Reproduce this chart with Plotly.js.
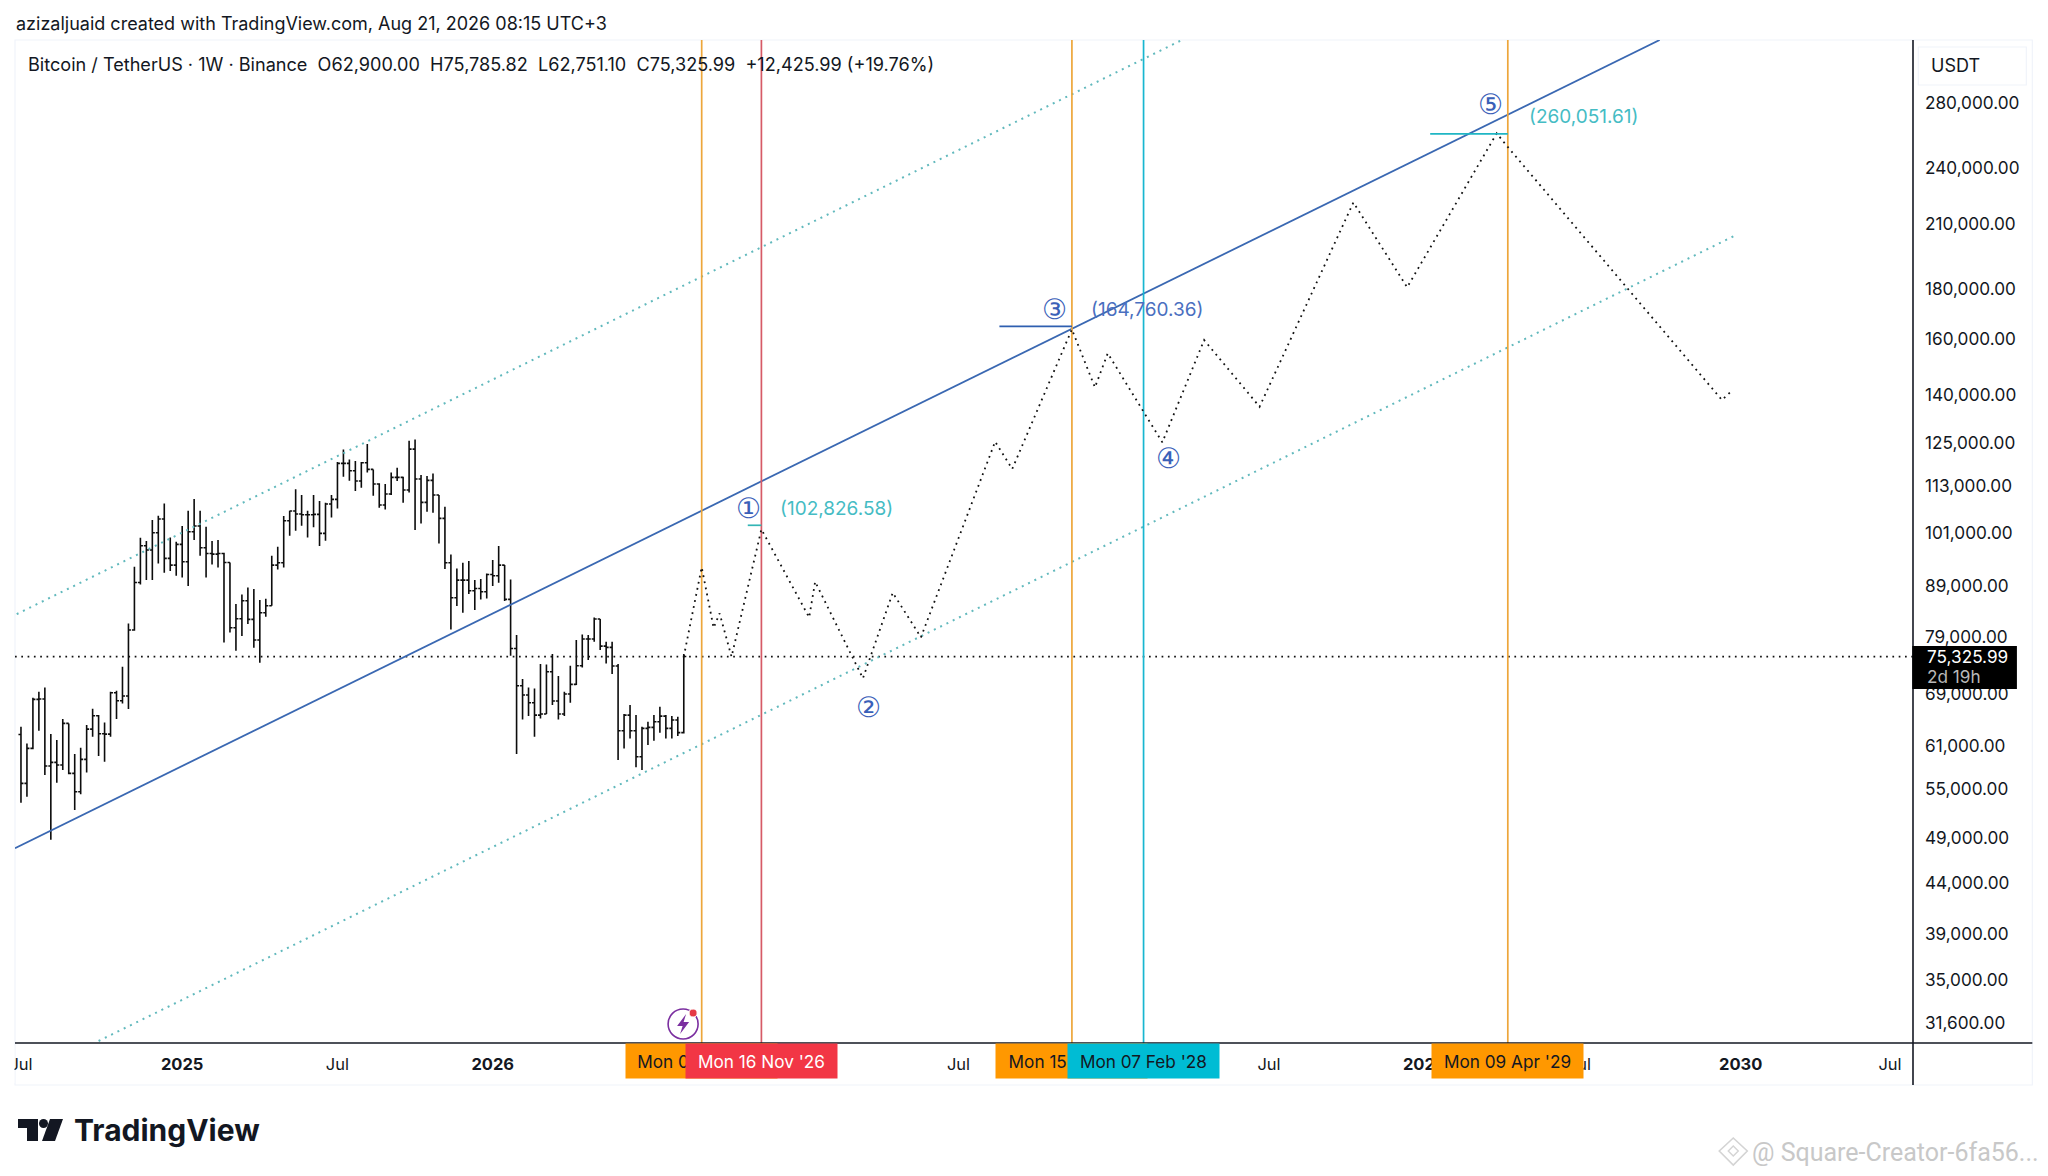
<!DOCTYPE html>
<html><head><meta charset="utf-8">
<script src="https://cdn.plot.ly/plotly-3.0.1.min.js"></script>
<style>html,body{margin:0;padding:0;background:#fff}#c{width:2048px;height:1176px}</style>
</head><body><div id="c"></div>
<script>
// ---------- weekly bars ----------
const weeks = ["2024-07-01","2024-07-08","2024-07-15","2024-07-22","2024-07-29","2024-08-05","2024-08-12","2024-08-19","2024-08-26","2024-09-02","2024-09-09","2024-09-16","2024-09-23","2024-09-30","2024-10-07","2024-10-14","2024-10-21","2024-10-28","2024-11-04","2024-11-11","2024-11-18","2024-11-25","2024-12-02","2024-12-09","2024-12-16","2024-12-23","2024-12-30",
"2025-01-06","2025-01-13","2025-01-20","2025-01-27","2025-02-03","2025-02-10","2025-02-17","2025-02-24","2025-03-03","2025-03-10","2025-03-17","2025-03-24","2025-03-31","2025-04-07","2025-04-14","2025-04-21","2025-04-28","2025-05-05","2025-05-12","2025-05-19","2025-05-26","2025-06-02","2025-06-09","2025-06-16","2025-06-23","2025-06-30","2025-07-07","2025-07-14","2025-07-21","2025-07-28","2025-08-04","2025-08-11","2025-08-18","2025-08-25","2025-09-01","2025-09-08","2025-09-15","2025-09-22","2025-09-29","2025-10-06","2025-10-13","2025-10-20","2025-10-27","2025-11-03","2025-11-10","2025-11-17","2025-11-24","2025-12-01","2025-12-08","2025-12-15","2025-12-22","2025-12-29",
"2026-01-05","2026-01-12","2026-01-19","2026-01-26","2026-02-02","2026-02-09","2026-02-16","2026-02-23","2026-03-02","2026-03-09","2026-03-16","2026-03-23","2026-03-30","2026-04-06","2026-04-13","2026-04-20","2026-04-27","2026-05-04","2026-05-11","2026-05-18","2026-05-25","2026-06-01","2026-06-08","2026-06-15","2026-06-22","2026-06-29","2026-07-06","2026-07-13","2026-07-20","2026-07-27","2026-08-03","2026-08-10","2026-08-17"];
const opens = [62630,55770,60590,68060,68110,58110,58620,58250,64290,57110,54680,59030,63430,65470,62730,62680,69140,67840,68600,80210,89800,97960,96960,101030,104360,95070,93570,98280,94310,101270,102640,97500,96190,96040,96190,94160,80650,82390,85980,82260,78330,83570,84970,93570,94090,103940,106360,105600,105430,105430,105520,100870,108140,109340,119080,119080,117030,
114200,119270,117400,113390,107880,110730,115200,115200,111780,123190,114740,108570,114380,110470,104520,94090,86600,90300,90300,88040,88530,87840,91520,91240,93570,86260,76790,70300,68760,67520,65570,65730,72660,67790,65730,68920,70520,73700,78520,78520,82330,77220,76980,73650,63180,65570,63180,59410,63530,63680,64540,65410,63530,64800,62900];
const highs = [63780,61310,68330,69300,70020,62680,61800,64950,64290,59790,60690,64040,66560,65570,64440,69300,69470,73530,81480,93200,99840,99050,104110,105190,108310,99920,98900,102640,106440,109430,106440,102480,99050,99290,96340,94160,85310,87280,88740,88390,86120,86390,95660,97730,105100,106440,112000,110470,106440,110470,108900,108480,110470,119460,123100,120210,119740,
119460,124660,117400,113570,113390,116560,117860,115380,125650,126050,115830,115560,116290,110470,107460,95960,92830,94090,94460,90300,90510,91740,94690,97890,93570,90440,79260,71420,70020,69850,74000,73940,75770,71920,69300,73700,78330,79390,79260,82650,82330,78020,78020,74000,65730,67150,65570,63780,64540,65570,66880,65570,65410,65310,75785.82];
const lows = [53280,54040,60450,63180,56880,48780,55860,57560,56980,52370,54340,57240,62290,59500,58710,62290,64950,67410,66510,80080,89380,90300,90300,93940,91880,92250,91240,90880,89020,99290,95660,90880,93720,93050,77890,79770,76370,79080,81350,76920,74230,82780,84970,92620,93050,100320,101510,102720,99920,102320,97890,99130,104770,107030,115380,114290,111510,
112400,116560,110290,107200,106780,110470,114200,108480,111160,101670,103290,106190,105940,98510,92690,80340,84900,83570,87350,84100,86260,86460,89020,89730,85920,75470,59790,64900,65410,62290,65050,65730,67150,64900,65410,67520,70410,73410,74700,78020,76490,74110,72270,58940,60590,62040,57930,57560,61070,61700,62880,62040,62040,62390,62751.10];
const closes = [55770,60590,68060,68110,58110,58620,58250,64290,57110,54680,59030,63430,65470,62730,62680,69140,67840,68600,80210,89800,97960,96960,101030,104360,95070,93570,98280,94310,101270,102640,97500,96190,96040,96190,94160,80650,82390,85980,82260,78330,83570,84970,93570,94090,103940,106360,105600,105430,105430,105520,100870,108140,109340,119080,119080,117030,114200,
119270,117400,113390,107880,110730,115200,115200,111780,123190,114740,108570,114380,110470,104520,94090,86600,90300,90300,88040,88530,87840,91520,91240,93570,86260,76790,70300,68760,67520,65570,65730,72660,67790,65730,68920,70520,73700,78520,78520,82330,77220,76980,73650,63180,65570,63180,59410,63530,63680,64540,65410,63530,64800,62900,75325.99];

// ---------- projected wave path ----------
const pathDates = ["2026-08-17","2026-09-07","2026-09-21","2026-09-28","2026-10-12","2026-11-16","2027-01-11","2027-01-18","2027-03-15","2027-04-19","2027-05-22","2027-08-17","2027-09-06","2027-11-15","2027-12-12","2027-12-27","2028-02-29","2028-04-18","2028-06-22","2028-10-10","2028-12-12","2029-03-27","2029-04-09","2029-12-16","2029-12-26"];
const pathPrices = [75325.99,93080,80640,83440,75300,101850,82660,89950,71540,87640,78840,125360,117490,163630,142600,154590,125160,159520,136190,221060,180770,260400,252080,138400,141040];

// ---------- channel lines ----------
const channelMidDates = ["2024-06-24","2029-10-04"], channelMidPrices = [47830,324900];
const channelUpDates = ["2024-06-26","2028-03-23"], channelUpPrices = [83300,324900];
const channelLowDates = ["2024-09-30","2029-12-31"], channelLowPrices = [30280,204300];

// ---------- marked dates ----------
const markerDates = ["2026-09-07","2026-11-16","2027-11-15","2028-02-07","2029-04-09"];
const markerNames = ["Mon 07 Sep '26","Mon 16 Nov '26","Mon 15 Nov '27","Mon 07 Feb '28","Mon 09 Apr '29"];
const markerLineColors = ["#eda63a","#d65a66","#eda63a","#18b6d0","#eda63a"];
const markerTagColors = ["#ff9800","#f23645","#ff9800","#00bcd4","#ff9800"];
const markerTextColors = ["#131722","#ffffff","#131722","#131722","#131722"];

// ---------- wave targets ----------
const levelStart = ["2026-10-31","2027-08-22","2029-01-08"], levelEnd = ["2026-11-16","2027-11-15","2029-04-09"];
const levelPrices = [102826.58,164760.36,260051.61];
const levelColors = ["#33b5b5","#2f5fb0","#1fb6c4"];
const levelTextDates = ["2027-02-12","2028-02-11","2029-07-07"], levelTextPrices = [107050,171560,270860];
const levelTexts = ["(102,826.58)","(164,760.36)","(260,051.61)"];
const levelTextColors = ["#45bcc4","#4a6fc0","#45bcc4"];
const waveNames = ["①","②","③","④","⑤"];
const waveDates = ["2026-11-01","2027-03-22","2027-10-25","2028-03-07","2029-03-20"];
const wavePrices = [107050,66720,171560,120500,279100];

// ---------- axes ----------
const priceTicks = [280000,240000,210000,180000,160000,140000,125000,113000,101000,89000,79000,69000,61000,55000,49000,44000,39000,35000,31600];
const priceTickText = ["280,000.00","240,000.00","210,000.00","180,000.00","160,000.00","140,000.00","125,000.00","113,000.00","101,000.00","89,000.00","79,000.00","69,000.00","61,000.00","55,000.00","49,000.00","44,000.00","39,000.00","35,000.00","31,600.00"];
const timeTicks = ["2024-07-01","2025-01-06","2025-07-07","2026-01-05","2026-07-06","2027-01-04","2027-07-05","2028-01-03","2028-07-03","2029-01-01","2029-07-02","2030-01-07","2030-07-01"];
const timeTickText = ["Jul","<b>2025</b>","Jul","<b>2026</b>","Jul","<b>2027</b>","Jul","<b>2028</b>","Jul","<b>2029</b>","Jul","<b>2030</b>","Jul"];
const lastPrice = 75325.99;
const xRange = ["2024-06-24","2030-07-28"], yRange = [30136,324900];

// ---------- page geometry helpers (chrome only) ----------
const W=2048,H=1176,L=15,R=1912.7,T=40,B=1043;
const fx=x=>(x-L)/(R-L), fy=y=>(B-y)/(B-T);
const poly=(pts,close=true)=>pts.map((p,i)=>(i?'L':'M')+fx(p[0])+' '+fy(p[1])).join(' ')+(close?' Z':'');
const FONT='Inter, "Liberation Sans", sans-serif', INK='#131722';

const traces=[];
const line=(x,y,color,width,dash)=>traces.push({type:'scatter',mode:'lines',x,y,line:{color,width,dash:dash||'solid'},hoverinfo:'skip'});
line(xRange,[lastPrice,lastPrice],'#111',1.7,'1.7px,4.6px');
line(channelUpDates,channelUpPrices,'#62b9bd',2,'2px,5px');
line(channelLowDates,channelLowPrices,'#62b9bd',2,'2px,5px');
line(channelMidDates,channelMidPrices,'#3a68b2',1.8);
markerDates.forEach((d,i)=>line([d,d],yRange,markerLineColors[i],1.7));
line(pathDates,pathPrices,'#111',1.8,'1.8px,4.4px');
levelPrices.forEach((p,i)=>line([levelStart[i],levelEnd[i]],[p,p],levelColors[i],1.7));
traces.push({type:'ohlc',x:weeks,open:opens,high:highs,low:lows,close:closes,tickwidth:0.42,
  increasing:{line:{color:'#0c0c0c',width:1.6}},decreasing:{line:{color:'#0c0c0c',width:1.6}},hoverinfo:'skip'});

const ann=[];
const text=(px,py,t,size,color,anchor='left',extra={})=>ann.push(Object.assign({xref:'paper',yref:'paper',x:fx(px),y:fy(py),text:t,showarrow:false,xanchor:anchor,yanchor:'middle',font:{family:FONT,size,color},borderpad:0},extra));
text(15,23,'azizaljuaid created with TradingView.com, Aug 21, 2026 08:15 UTC+3',18,INK);
text(27,64,"Bitcoin / TetherUS · 1W · Binance&nbsp;&nbsp;O62,900.00&nbsp;&nbsp;H75,785.82&nbsp;&nbsp;L62,751.10&nbsp;&nbsp;C75,325.99&nbsp;&nbsp;+12,425.99 (+19.76%)",18.1,INK);
text(1930,66,'USDT',18,INK);
text(1926,656.7,'75,325.99',17.2,'#ffffff');
text(1926,676.7,'2d 19h',17.2,'#b8b8b8');
markerNames.forEach((n,i)=>ann.push({xref:'x',yref:'paper',x:markerDates[i],y:0,yanchor:'top',xanchor:'center',showarrow:false,text:n,
  font:{family:FONT,size:17.2,color:markerTextColors[i]},bgcolor:markerTagColors[i],width:147,height:30,borderpad:2}));
levelTexts.forEach((t,i)=>ann.push({xref:'x',yref:'y',x:levelTextDates[i],y:Math.log10(levelTextPrices[i]),text:t,showarrow:false,
  font:{family:FONT,size:19,color:levelTextColors[i]}}));
waveNames.forEach((t,i)=>ann.push({xref:'x',yref:'y',x:waveDates[i],y:Math.log10(wavePrices[i]),text:t,showarrow:false,
  font:{family:'"DejaVu Sans"',size:28,color:'#3a60b8'}}));
text(73,1130,'<b>TradingView</b>',30,'#131722');
text(1751,1152,'@ Square-Creator-6fa56...',25,'#c8c8c8','left',{font:{family:'Roboto, sans-serif',size:25,color:'#c8c8c8'}});

const shapes=[
 {type:'rect',xref:'paper',yref:'paper',x0:fx(15),x1:fx(2032),y0:fy(1085),y1:fy(40),line:{color:'#f0f3fa',width:1.2},layer:'below'},
 {type:'line',xref:'paper',yref:'paper',x0:fx(15),x1:fx(2032),y0:0,y1:0,line:{color:'#131722',width:1.6},layer:'above'},
 {type:'line',xref:'paper',yref:'paper',x0:1,x1:1,y0:fy(40),y1:fy(1085),line:{color:'#131722',width:1.6},layer:'above'},
 {type:'rect',xref:'paper',yref:'paper',x0:fx(1918),x1:fx(2026),y0:fy(85),y1:fy(47),line:{color:'#f0f3fa',width:1.2},layer:'below'},
 {type:'rect',xref:'paper',yref:'paper',x0:fx(0),x1:fx(14.5),y0:fy(1083),y1:fy(1046),line:{width:0},fillcolor:'#fff',layer:'above'},
 // last price tag
 {type:'rect',xref:'paper',yref:'paper',x0:fx(1912),x1:fx(2016.6),y0:fy(689),y1:fy(646),line:{width:0},fillcolor:'#000',layer:'above'},
 // flash icon
 {type:'circle',xref:'paper',yref:'paper',x0:fx(668),x1:fx(698),y0:fy(1039),y1:fy(1009),line:{color:'#7b2fa0',width:1.6},fillcolor:'rgba(255,255,255,0)',layer:'above'},
 {type:'path',xref:'paper',yref:'paper',path:poly([[686,1014],[677,1026],[682.5,1026],[680,1034],[689,1022],[683.5,1022]]),fillcolor:'#7b2fa0',line:{width:0},layer:'above'},
 {type:'circle',xref:'paper',yref:'paper',x0:fx(689),x1:fx(697),y0:fy(1017),y1:fy(1009),line:{color:'#fff',width:1},fillcolor:'#e53945',layer:'above'},
 // TradingView mark
 {type:'path',xref:'paper',yref:'paper',path:poly([[18,1119],[38,1119],[38,1141],[27,1141],[27,1128],[18,1128]]),fillcolor:'#131722',line:{width:0},layer:'above'},
 {type:'circle',xref:'paper',yref:'paper',x0:fx(39),x1:fx(48),y0:fy(1128),y1:fy(1119),fillcolor:'#131722',line:{width:0},layer:'above'},
 {type:'path',xref:'paper',yref:'paper',path:poly([[50,1119],[63,1119],[55,1141],[42,1141]]),fillcolor:'#131722',line:{width:0},layer:'above'},
 // watermark icon
 {type:'path',xref:'paper',yref:'paper',path:poly([[1733,1138],[1747,1151],[1733,1165],[1719,1151]]),fillcolor:'rgba(255,255,255,0)',line:{color:'#d4d4d4',width:1.6},layer:'above'},
 {type:'path',xref:'paper',yref:'paper',path:poly([[1733,1146],[1738,1151],[1733,1156],[1728,1151]]),fillcolor:'rgba(255,255,255,0)',line:{color:'#d4d4d4',width:1.4},layer:'above'}
];

const layout={width:W,height:H,margin:{l:L,r:W-R,t:T,b:H-B,pad:0},showlegend:false,paper_bgcolor:'#fff',plot_bgcolor:'#fff',
 xaxis:{type:'date',range:xRange,showgrid:false,zeroline:false,showline:false,ticks:'',tickmode:'array',tickvals:timeTicks,ticktext:timeTickText,tickangle:0,
   tickfont:{family:FONT,size:16.5,color:INK},ticklabelstandoff:9,rangeslider:{visible:false},fixedrange:true},
 yaxis:{type:'log',side:'right',range:[Math.log10(yRange[0]),Math.log10(yRange[1])],showgrid:false,zeroline:false,showline:false,ticks:'',tickmode:'array',tickvals:priceTicks,ticktext:priceTickText,
   tickfont:{family:FONT,size:17.2,color:INK},ticklabelstandoff:11,fixedrange:true},
 annotations:ann,shapes};
Plotly.newPlot('c',traces,layout,{staticPlot:true,displayModeBar:false});
</script></body></html>
